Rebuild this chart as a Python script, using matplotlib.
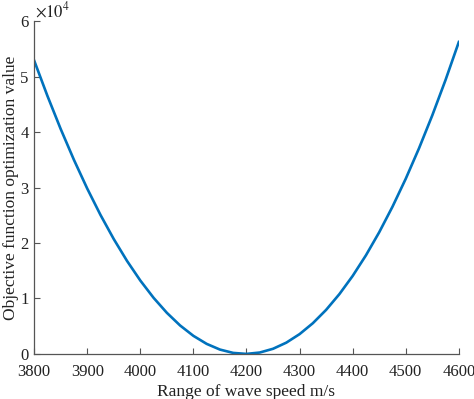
import matplotlib.pyplot as plt
from matplotlib.ticker import FuncFormatter

# wave speed (m/s) and objective function values
speed = [3800, 3825, 3850, 3875, 3900, 3925, 3950, 3975, 4000, 4025, 4050,
         4075, 4100, 4125, 4150, 4175, 4200, 4225, 4250, 4275, 4300, 4325,
         4350, 4375, 4400, 4425, 4450, 4475, 4500, 4525, 4550, 4575, 4600]
objective = [52913, 46535, 40559, 34987, 29819, 25058, 20706, 16764, 13233,
             10115, 7413, 5126, 3258, 1810, 784, 180, 1, 249, 925, 2030,
             3566, 5536, 7940, 10780, 14059, 17776, 21935, 26537, 31583,
             37075, 43014, 49404, 56245]

x_ticks = [3800, 3900, 4000, 4100, 4200, 4300, 4400, 4500, 4600]
y_ticks = [0, 10000, 20000, 30000, 40000, 50000, 60000]

plt.rcParams['font.family'] = ['Liberation Serif', 'DejaVu Serif']
plt.rcParams['mathtext.fontset'] = 'stix'

fig = plt.figure(figsize=(4.74, 3.99), dpi=100)
ax = fig.add_axes([0.072, 0.113, 0.896, 0.834])

ax.plot(speed, objective, color='#0072BD', linewidth=1.9)

ax.set_xlim(3800, 4600)
ax.set_ylim(0, 60000)
ax.set_xticks(x_ticks)
ax.set_yticks(y_ticks)
ax.yaxis.set_major_formatter(FuncFormatter(lambda v, _: f"{v / 1e4:g}"))

# box off, matlab style
ax.spines['top'].set_visible(False)
ax.spines['right'].set_visible(False)
for s in ['left', 'bottom']:
    ax.spines[s].set_color('#555555')
    ax.spines[s].set_linewidth(0.9)
ax.tick_params(direction='in', length=4, width=0.8, color='#555555',
               labelsize=12, labelcolor='#222222')
ax.tick_params(axis='x', pad=7)
ax.tick_params(axis='y', pad=4)

ax.text(0.003, 1.0, r'$\times10^{4}$', transform=ax.transAxes,
        fontsize=12, color='#222222', ha='left', va='bottom')

ax.set_xlabel('Range of wave speed m/s', fontsize=12.5, color='#222222',
              labelpad=3)
ax.set_ylabel('Objective function optimization value', fontsize=12.5,
              color='#222222', labelpad=1)

fig.savefig('out.png', dpi=100)
